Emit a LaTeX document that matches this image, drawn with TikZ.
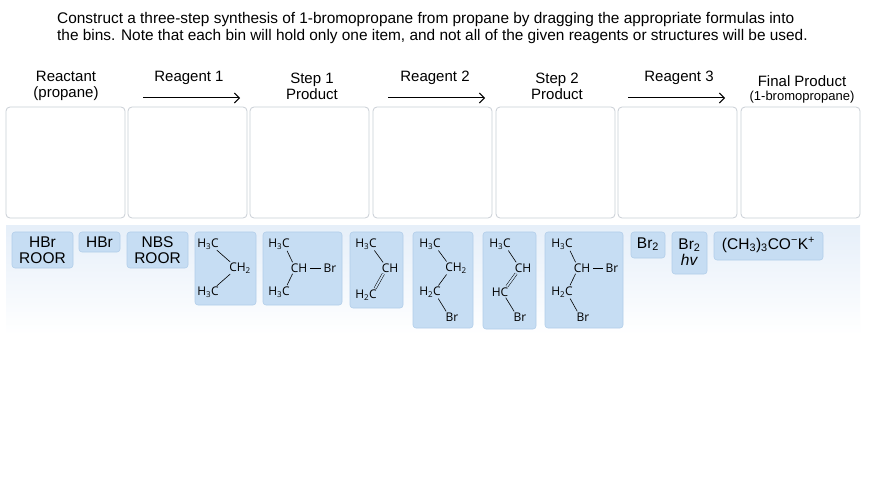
\documentclass[tikz,border=0pt]{standalone}
\usepackage{fontspec}
\setmainfont{Liberation Sans}
\newfontfamily\chemf{Open Sans}
\usetikzlibrary{arrows.meta}
\definecolor{tile}{HTML}{C6DDF3}
\definecolor{tileb}{HTML}{B2CEEA}
\definecolor{pal}{HTML}{E6EFF9}
\definecolor{binb}{HTML}{C9CFD6}
\begin{document}
\begin{tikzpicture}[x=1pt,y=-1pt,
  bin/.style={draw=binb,line width=0.8pt,rounded corners=4pt,fill=white},
  tilebox/.style={draw=tileb,fill=tile,line width=0.6pt,rounded corners=3pt},
  hdr/.style={font=\fontsize{15}{16}\selectfont,align=center,inner sep=0pt},
  tt/.style={font=\fontsize{15.5}{16}\selectfont,align=center,inner sep=0pt},
  ch/.style={font=\chemf\fontsize{12}{13}\selectfont,inner sep=0pt},
  bond/.style={line width=0.6pt,shorten >=2.5pt,shorten <=2.5pt},
  dbond/.style={double=tile,double distance=1.8pt,line width=0.5pt,shorten >=2.5pt,shorten <=2.5pt},
  arr/.style={-{Straight Barb[length=5pt,width=10pt]},line width=1pt}]
\useasboundingbox (0,0) rectangle (869,478);
\fill[white] (0,0) rectangle (869,478);
% title
\node[anchor=north west,align=left,inner sep=0pt,font=\fontsize{15.4}{17}\selectfont] (title) at (57,12)
 {Construct a three-step synthesis of 1-bromopropane from propane by dragging the appropriate formulas into\\the bins. Note that each bin will hold only one item, and not all of the given reagents or structures will be used.};
% headers
\node[hdr] (h1) at (66,86) {Reactant\\(propane)};
\node[hdr] (h2) at (189,78) {Reagent 1};
\coordinate (a1s) at (143,98); \coordinate (a1e) at (240,98);
\draw[arr] (a1s) -- (a1e);
\node[hdr] (h3) at (312,86) {Step 1\\Product};
\node[hdr] (h4) at (435,78) {Reagent 2};
\coordinate (a2s) at (388,98); \coordinate (a2e) at (485,98);
\draw[arr] (a2s) -- (a2e);
\node[hdr] (h5) at (557,86) {Step 2\\Product};
\node[hdr] (h6) at (679,78) {Reagent 3};
\coordinate (a3s) at (628,98); \coordinate (a3e) at (725,98);
\draw[arr] (a3s) -- (a3e);
\node[hdr] (h7) at (802,81) {Final Product};
\node[hdr,font=\fontsize{13}{14}\selectfont] (h7b) at (802,97) {(1-bromopropane)};
% bins
\foreach \a/\b in {6/125,128/247,250/369,373/492,496/615,618/737,741/860}
  \draw[bin] (\a,107) rectangle (\b,218);
% palette
\shade[top color=pal,bottom color=white] (6,226) rectangle (860,335);
% tiles
\draw[tilebox] (12,232) rectangle (73,268);
\node[tt] (t1) at (42.5,250) {HBr\\ROOR};
\draw[tilebox] (79,232) rectangle (120,252);
\node[tt] (t2) at (99.5,242) {HBr};
\draw[tilebox] (127,232) rectangle (188,268);
\node[tt] (t3) at (157.5,250) {NBS\\ROOR};
\draw[tilebox] (195,232) rectangle (256,305);
\draw[tilebox] (263,232) rectangle (342,305);
\draw[tilebox] (350,232) rectangle (403,308);
\draw[tilebox] (413,232) rectangle (473,328);
\draw[tilebox] (483,232) rectangle (536,329);
\draw[tilebox] (545,232) rectangle (623,328);
\draw[tilebox] (631,232) rectangle (665,258);
\node[tt] (t10) at (648,244) {Br\textsubscript{2}};
\draw[tilebox] (672,232) rectangle (707,274);
\node[tt] (t11) at (689.5,252) {Br\textsubscript{2}\\\textit{hv}};
\draw[tilebox] (714,232) rectangle (823,260);
\node[tt] (t12) at (768.5,245) {(CH\textsubscript{3})\textsubscript{3}CO\textsuperscript{−}K\textsuperscript{+}};
% propane
\node[ch] (p1) at (208,244) {H\textsubscript{3}C};
\node[ch] (p2) at (240,268) {CH\textsubscript{2}};
\node[ch] (p3) at (208,292) {H\textsubscript{3}C};
\draw[bond] ([xshift=-4pt,yshift=1pt]p1.south east) -- ([xshift=3pt,yshift=-1pt]p2.north west);
\draw[bond] ([xshift=-4pt,yshift=-1pt]p3.north east) -- ([xshift=3pt,yshift=1pt]p2.south west);
% 2-bromopropane
\node[ch] (q1) at (279,244) {H\textsubscript{3}C};
\node[ch] (q2) at (299,268) {CH};
\node[ch] (q3) at (279,292) {H\textsubscript{3}C};
\node[ch] (q4) at (330,268) {Br};
\draw[bond] ([xshift=-4pt,yshift=1pt]q1.south east) -- ([xshift=3pt,yshift=-1pt]q2.north west);
\draw[bond] ([xshift=-4pt,yshift=-1pt]q3.north east) -- ([xshift=3pt,yshift=1pt]q2.south west);
\draw[bond,shorten >=0pt,shorten <=0pt] ([xshift=3pt]q2.east) -- ([xshift=-2pt]q4.west);
% propene
\node[ch] (r1) at (366,244) {H\textsubscript{3}C};
\node[ch] (r2) at (390,268) {CH};
\node[ch] (r3) at (366,295) {H\textsubscript{2}C};
\draw[bond] ([xshift=-4pt,yshift=1pt]r1.south east) -- ([xshift=3pt,yshift=-1pt]r2.north west);
\draw[dbond] ([xshift=-3pt,yshift=-1pt]r3.north east) -- ([xshift=3pt,yshift=1pt]r2.south west);
% 1-bromopropane
\node[ch] (s1) at (430,244) {H\textsubscript{3}C};
\node[ch] (s2) at (456,268) {CH\textsubscript{2}};
\node[ch] (s3) at (430,292) {H\textsubscript{2}C};
\node[ch] (s4) at (452,317) {Br};
\draw[bond] ([xshift=-4pt,yshift=1pt]s1.south east) -- ([xshift=3pt,yshift=-1pt]s2.north west);
\draw[bond] ([xshift=-4pt,yshift=-1pt]s3.north east) -- ([xshift=3pt,yshift=1pt]s2.south west);
\draw[bond] ([xshift=-4pt,yshift=1pt]s3.south east) -- ([xshift=2pt,yshift=-1pt]s4.north west);
% bromopropene
\node[ch] (u1) at (500,244) {H\textsubscript{3}C};
\node[ch] (u2) at (523,268) {CH};
\node[ch] (u3) at (500,292) {HC};
\node[ch] (u4) at (520,317) {Br};
\draw[bond] ([xshift=-4pt,yshift=1pt]u1.south east) -- ([xshift=3pt,yshift=-1pt]u2.north west);
\draw[dbond] ([xshift=-3pt,yshift=-1pt]u3.north east) -- ([xshift=3pt,yshift=1pt]u2.south west);
\draw[bond] ([xshift=-4pt,yshift=1pt]u3.south east) -- ([xshift=2pt,yshift=-1pt]u4.north west);
% 1,2-dibromopropane
\node[ch] (v1) at (562,244) {H\textsubscript{3}C};
\node[ch] (v2) at (582,268) {CH};
\node[ch] (v3) at (562,292) {H\textsubscript{2}C};
\node[ch] (v4) at (612,268) {Br};
\node[ch] (v5) at (583,317) {Br};
\draw[bond] ([xshift=-4pt,yshift=1pt]v1.south east) -- ([xshift=3pt,yshift=-1pt]v2.north west);
\draw[bond] ([xshift=-4pt,yshift=-1pt]v3.north east) -- ([xshift=3pt,yshift=1pt]v2.south west);
\draw[bond,shorten >=0pt,shorten <=0pt] ([xshift=3pt]v2.east) -- ([xshift=-2pt]v4.west);
\draw[bond] ([xshift=-4pt,yshift=1pt]v3.south east) -- ([xshift=2pt,yshift=-1pt]v5.north west);
\end{tikzpicture}
\end{document}
